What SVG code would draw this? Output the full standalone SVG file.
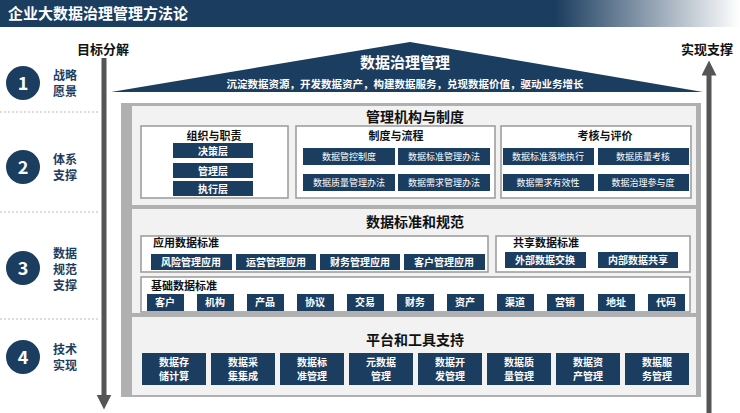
<svg xmlns="http://www.w3.org/2000/svg" width="740" height="413" viewBox="0 0 740 413">
<defs>
<linearGradient id="tg" x1="0" x2="1"><stop offset="0" stop-color="#1b3d5f"/><stop offset="0.75" stop-color="#1b3d5f"/><stop offset="1" stop-color="#1b3d5f" stop-opacity="0"/></linearGradient>
<marker id="ah" viewBox="0 0 10 10" refX="5" refY="5" markerWidth="3" markerHeight="3" orient="auto"><path d="M0,0 L10,5 L0,10 z" fill="#555"/></marker>
<style>
text{font-family:"Noto Sans CJK SC","Liberation Sans",sans-serif}
.b{fill:#1b3d5f}
.w{fill:#fff;font-size:10px;text-anchor:middle;font-weight:bold}
.ws{fill:#fff;font-size:9px;text-anchor:middle}
.h{font-size:14px;font-weight:bold;text-anchor:middle;fill:#111}
.s{font-size:11px;font-weight:bold;fill:#111}
.sb{fill:#fff;stroke:#999;stroke-width:1.5}
.lab{font-size:12px;font-weight:bold;fill:#1b3d5f}
.num{font-size:18px;font-weight:bold;fill:#fff;text-anchor:middle}
</style>
</defs>
<rect width="740" height="413" fill="#fff"/>
<rect x="0" y="0" width="740" height="27" fill="url(#tg)"/>
<text x="8" y="19" font-size="15" font-weight="bold" fill="#fff">企业大数据治理管理方法论</text>
<text x="77" y="54" font-size="13" font-weight="bold" fill="#111">目标分解</text>
<text x="681" y="54" font-size="13" font-weight="bold" fill="#111">实现支撑</text>
<g id="connectors" stroke="#555" stroke-width="5">
<line x1="104" y1="58" x2="104" y2="402" marker-end="url(#ah)"/>
<line x1="709" y1="413" x2="709" y2="68" marker-end="url(#ah)"/>
</g>
<g stroke="#bbb" stroke-dasharray="2,2"><line x1="0" y1="112" x2="100" y2="112"/><line x1="0" y1="212" x2="100" y2="212"/><line x1="0" y1="319" x2="100" y2="319"/></g>
<g id="steps">
<circle class="b" cx="23" cy="83" r="17"/><text class="num" x="23" y="90">1</text><text class="lab" x="53" y="80">战略</text><text class="lab" x="53" y="96">愿景</text>
<circle class="b" cx="23" cy="167" r="17"/><text class="num" x="23" y="174">2</text><text class="lab" x="53" y="164">体系</text><text class="lab" x="53" y="180">支撑</text>
<circle class="b" cx="23" cy="268" r="17"/><text class="num" x="23" y="275">3</text><text class="lab" x="53" y="258">数据</text><text class="lab" x="53" y="274">规范</text><text class="lab" x="53" y="290">支撑</text>
<circle class="b" cx="23" cy="357" r="17"/><text class="num" x="23" y="364">4</text><text class="lab" x="53" y="354">技术</text><text class="lab" x="53" y="370">实现</text>
</g>
<g id="roof">
<polygon class="b" points="111,92 410,42 703,92"/>
<text x="405" y="68" font-size="15" font-weight="bold" fill="#fff" text-anchor="middle">数据治理管理</text>
<text x="405" y="88" font-size="10.5" font-weight="bold" fill="#fff" text-anchor="middle">沉淀数据资源，开发数据资产，构建数据服务，兑现数据价值，驱动业务增长</text>
</g>
<rect x="121" y="103" width="580" height="294" fill="#b0b0b0"/>
<g id="p1">
<rect x="132" y="106" width="564" height="99" fill="#f2f2f2"/>
<text class="h" x="415" y="122">管理机构与制度</text>
<rect class="sb" x="141" y="126" width="147" height="72"/><text class="s" x="214" y="140" text-anchor="middle">组织与职责</text>
<rect class="b" x="173" y="143" width="80" height="15"/><text class="w" x="213" y="155">决策层</text>
<rect class="b" x="173" y="163" width="80" height="15"/><text class="w" x="213" y="175">管理层</text>
<rect class="b" x="173" y="181" width="80" height="15"/><text class="w" x="213" y="193">执行层</text>
<rect class="sb" x="296" y="126" width="199" height="72"/><text class="s" x="396" y="140" text-anchor="middle">制度与流程</text>
<rect class="b" x="303" y="148" width="92" height="17"/><text class="ws" x="349" y="160">数据管控制度</text>
<rect class="b" x="398" y="148" width="92" height="17"/><text class="ws" x="444" y="160">数据标准管理办法</text>
<rect class="b" x="303" y="174" width="92" height="17"/><text class="ws" x="349" y="186">数据质量管理办法</text>
<rect class="b" x="398" y="174" width="92" height="17"/><text class="ws" x="444" y="186">数据需求管理办法</text>
<rect class="sb" x="501" y="126" width="190" height="72"/><text class="s" x="605" y="140" text-anchor="middle">考核与评价</text>
<rect class="b" x="503" y="148" width="91" height="17"/><text class="ws" x="548" y="160">数据标准落地执行</text>
<rect class="b" x="598" y="148" width="91" height="17"/><text class="ws" x="643" y="160">数据质量考核</text>
<rect class="b" x="503" y="174" width="91" height="17"/><text class="ws" x="548" y="186">数据需求有效性</text>
<rect class="b" x="598" y="174" width="91" height="17"/><text class="ws" x="643" y="186">数据治理参与度</text>
</g>
<g id="p2">
<rect x="132" y="209" width="564" height="104" fill="#f2f2f2"/>
<text class="h" x="415" y="227">数据标准和规范</text>
<rect class="sb" x="141" y="236" width="347" height="36"/><text class="s" x="153" y="247">应用数据标准</text>
<rect class="b" x="151" y="254" width="81" height="16"/><text class="w" x="191" y="266">风险管理应用</text>
<rect class="b" x="236" y="254" width="80" height="16"/><text class="w" x="276" y="266">运营管理应用</text>
<rect class="b" x="320" y="254" width="80" height="16"/><text class="w" x="360" y="266">财务管理应用</text>
<rect class="b" x="404" y="254" width="81" height="16"/><text class="w" x="444" y="266">客户管理应用</text>
<rect class="sb" x="496" y="236" width="194" height="36"/><text class="s" x="513" y="247">共享数据标准</text>
<rect class="b" x="505" y="252" width="81" height="16"/><text class="w" x="545" y="264">外部数据交换</text>
<rect class="b" x="598" y="252" width="80" height="16"/><text class="w" x="638" y="264">内部数据共享</text>
<rect class="sb" x="141" y="277" width="549" height="35"/><text class="s" x="151" y="290">基础数据标准</text>
<g>
<rect class="b" x="147" y="294" width="37" height="17"/><text class="w" x="165" y="306">客户</text>
<rect class="b" x="197" y="294" width="37" height="17"/><text class="w" x="215" y="306">机构</text>
<rect class="b" x="247" y="294" width="37" height="17"/><text class="w" x="265" y="306">产品</text>
<rect class="b" x="297" y="294" width="37" height="17"/><text class="w" x="315" y="306">协议</text>
<rect class="b" x="347" y="294" width="37" height="17"/><text class="w" x="365" y="306">交易</text>
<rect class="b" x="397" y="294" width="37" height="17"/><text class="w" x="415" y="306">财务</text>
<rect class="b" x="447" y="294" width="37" height="17"/><text class="w" x="465" y="306">资产</text>
<rect class="b" x="497" y="294" width="37" height="17"/><text class="w" x="515" y="306">渠道</text>
<rect class="b" x="547" y="294" width="37" height="17"/><text class="w" x="565" y="306">营销</text>
<rect class="b" x="598" y="294" width="37" height="17"/><text class="w" x="616" y="306">地址</text>
<rect class="b" x="648" y="294" width="37" height="17"/><text class="w" x="666" y="306">代码</text>
</g>
</g>
<g id="p3">
<rect x="132" y="317" width="564" height="78" fill="#f2f2f2"/>
<text class="h" x="415" y="345">平台和工具支持</text>
<rect class="b" x="142" y="353" width="64" height="32"/><text class="w" x="174" y="366">数据存</text><text class="w" x="174" y="380">储计算</text>
<rect class="b" x="211" y="353" width="64" height="32"/><text class="w" x="243" y="366">数据采</text><text class="w" x="243" y="380">集集成</text>
<rect class="b" x="280" y="353" width="64" height="32"/><text class="w" x="312" y="366">数据标</text><text class="w" x="312" y="380">准管理</text>
<rect class="b" x="349" y="353" width="64" height="32"/><text class="w" x="381" y="366">元数据</text><text class="w" x="381" y="380">管理</text>
<rect class="b" x="418" y="353" width="64" height="32"/><text class="w" x="450" y="366">数据开</text><text class="w" x="450" y="380">发管理</text>
<rect class="b" x="487" y="353" width="64" height="32"/><text class="w" x="519" y="366">数据质</text><text class="w" x="519" y="380">量管理</text>
<rect class="b" x="556" y="353" width="64" height="32"/><text class="w" x="588" y="366">数据资</text><text class="w" x="588" y="380">产管理</text>
<rect class="b" x="625" y="353" width="64" height="32"/><text class="w" x="657" y="366">数据服</text><text class="w" x="657" y="380">务管理</text>
</g>
</svg>
